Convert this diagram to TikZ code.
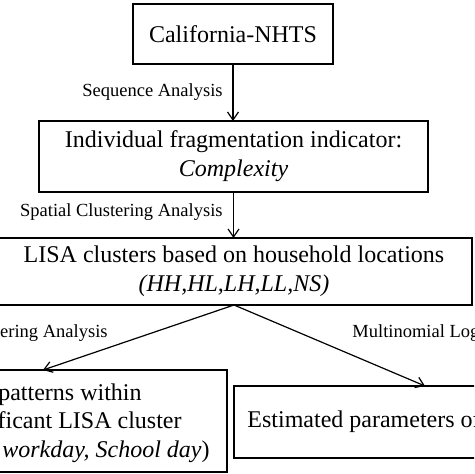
\documentclass[tikz,border=0pt]{standalone}
\usepackage{fontspec}
\setmainfont{Liberation Serif}
\usetikzlibrary{arrows.meta}
\begin{document}
\begin{tikzpicture}[x=0.5pt,y=-0.5pt,
  box/.style={draw, line width=0.9pt, inner sep=0pt, outer sep=0pt, rectangle},
  big/.style={font=\fontsize{12}{14.5}\selectfont, align=center},
  lbl/.style={font=\fontsize{9.25}{11}\selectfont, inner sep=0pt},
  flow/.style={-{Straight Barb[length=4pt,width=5.5pt]}, line width=0.6pt},
  txt/.style={font=\fontsize{12}{14.5}\selectfont, inner sep=0pt}]
\useasboundingbox (0,0) rectangle (474,474);
\clip (0,0) rectangle (474,474);
\fill[white] (0,0) rectangle (474,474);
\node[box, big, minimum width=100pt, minimum height=30pt] (cal) at (233,34) {California-NHTS};
\node[box, big, minimum width=194.5pt, minimum height=35.5pt] (ind) at (233.5,156.5) {Individual fragmentation indicator:\\ \textit{Complexity}};
\node[box, big, minimum width=238pt, minimum height=33.5pt] (lisa) at (234,271.5) {LISA clusters based on household locations\\ \textit{(HH,HL,LH,LL,NS)}};
\node[box, minimum width=184pt, minimum height=51pt] (pat) at (43,421) {};
\node[box, minimum width=191pt, minimum height=36pt] (est) at (425,422) {};
\node[txt, anchor=base east] (p1) at (142,400) {Activity patterns within};
\node[txt, anchor=base east] (p2) at (182,428.5) {significant LISA cluster};
\node[txt, anchor=base east] (p3) at (210,457) {(\textit{Regular workday, School day})};
\node[txt, anchor=west] (e1) at (247,422) {Estimated parameters of MNL model};
\draw[flow] (cal.south) -- (cal.south |- ind.north);
\draw[flow] (ind.south) -- (ind.south |- lisa.north);
\draw[flow] (lisa.south) -- (pat.north);
\draw[flow] (lisa.south) -- (est.north);
\node[lbl, anchor=east] (l1) at (223,92) {Sequence Analysis};
\node[lbl, anchor=east] (l2) at (223,212) {Spatial Clustering Analysis};
\node[lbl, anchor=east] (l3) at (108,333) {Spatial Clustering Analysis};
\node[lbl, anchor=west] (l4) at (352,333) {Multinomial Logit Model};
\end{tikzpicture}
\end{document}
